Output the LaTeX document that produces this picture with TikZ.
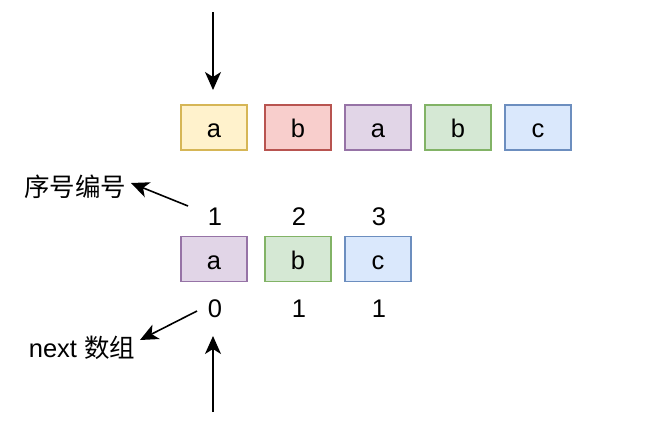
\documentclass[tikz,border=0pt]{standalone}
\usepackage{fontspec}
\setmainfont{Liberation Sans}
\newfontfamily\cjk{Noto Sans CJK SC}
\usepackage{xcolor}
\usepackage{tikz}
\usetikzlibrary{arrows.meta}

\definecolor{yfill}{HTML}{FFF2CC}\definecolor{yline}{HTML}{D6B656}
\definecolor{rfill}{HTML}{F8CECC}\definecolor{rline}{HTML}{B85450}
\definecolor{pfill}{HTML}{E1D5E7}\definecolor{pline}{HTML}{9673A6}
\definecolor{gfill}{HTML}{D5E8D4}\definecolor{gline}{HTML}{82B366}
\definecolor{bfill}{HTML}{DAE8FC}\definecolor{bline}{HTML}{6C8EBF}

\begin{document}
\begin{tikzpicture}[x=1pt,y=-1pt,
  font=\fontsize{25.5}{30}\selectfont,
  cell/.style={draw, line width=1.5pt, minimum width=66pt, minimum height=45pt, inner sep=0pt, text height=20pt, text depth=0pt},
  arr/.style={-{Stealth[length=18pt,width=16pt,inset=5pt]}, line width=1.6pt}]
\useasboundingbox (0,0) rectangle (664,437);
% main string
\foreach \i/\x/\t/\c in {1/214/a/y,2/298/b/r,3/378/a/p,4/458/b/g,5/538/c/b} {
  \node[cell, fill=\c fill, draw=\c line] (s\i) at (\x,127.5) {\t};
}
% pattern string with index and next values
\foreach \i/\x/\t/\c/\n in {1/214/a/p/0,2/298/b/g/1,3/378/c/b/1} {
  \node[cell, fill=\c fill, draw=\c line] (p\i) at (\x,259) {\t};
  \node (idx\i) at (\x+1,216.5) {\i};
  \node (nxt\i) at (\x+1,309) {\n};
}
\node (idxlbl) at (75,187) {\cjk 序号编号};
\node (nxtlbl) at (82,348) {next \cjk 数组};
\coordinate (topin) at (213,12);
\coordinate (topout) at (213,90);
\coordinate (botin) at (213,412);
\coordinate (botout) at (213,336);
\coordinate (idxtail) at (188,206);
\coordinate (idxtip) at (131,183);
\coordinate (nxttail) at (197,311);
\coordinate (nxttip) at (140,340);
\draw[arr] (topin) -- (topout);
\draw[arr] (botin) -- (botout);
\draw[arr] (idxtail) -- (idxtip);
\draw[arr] (nxttail) -- (nxttip);
\end{tikzpicture}
\end{document}
